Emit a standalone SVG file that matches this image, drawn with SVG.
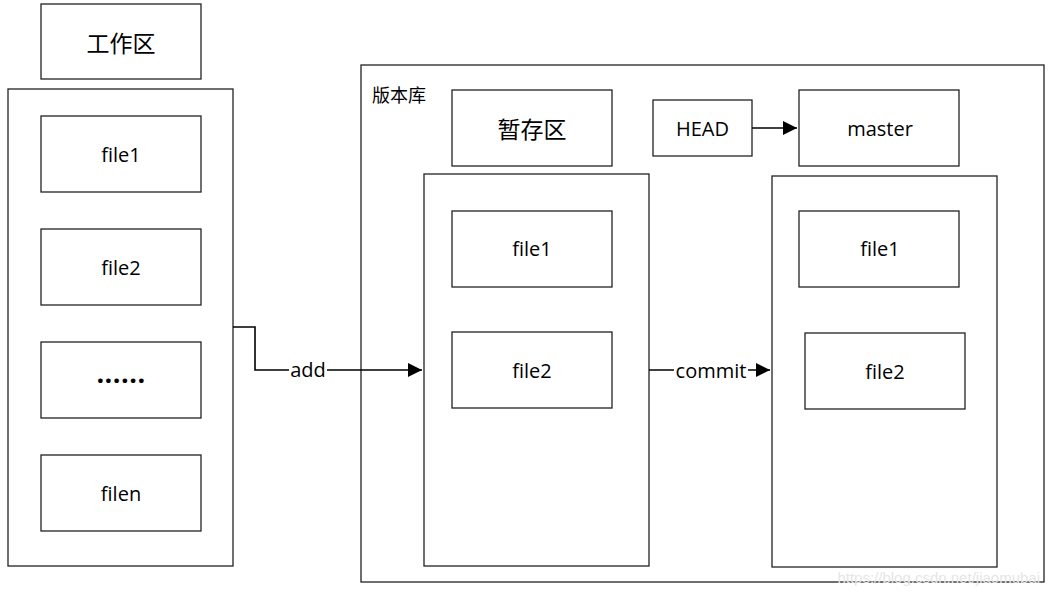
<svg xmlns="http://www.w3.org/2000/svg" width="1054" height="594" viewBox="0 0 1054 594">
<defs>
<marker id="arr" viewBox="0 0 10 10" refX="10" refY="5" markerWidth="14" markerHeight="14" markerUnits="userSpaceOnUse" orient="auto">
<path d="M0,0 L10,5 L0,10 z" fill="#000"/>
</marker>
<style>
.b{fill:#fff;stroke:#222;stroke-width:1.3}
.bg{fill:#fff;stroke:none}
.t{font-family:"Open Sans","Noto Sans",sans-serif;font-size:20px;fill:#000;text-anchor:middle;dominant-baseline:central}
.c{font-family:"Noto Sans CJK SC",sans-serif;font-size:23px;fill:#000;text-anchor:middle;dominant-baseline:central}
.e{fill:none;stroke:#000;stroke-width:1.6}
</style>
</defs>
<rect class="bg" width="1054" height="594"/>
<g id="workspace-title"><rect class="b" x="41" y="4" width="160" height="75"/><text class="c" x="121" y="42">工作区</text></g>
<g id="workspace"><rect class="b" x="8" y="89" width="225" height="477"/></g>
<g id="w-file1"><rect class="b" x="41" y="116" width="160" height="76"/><text class="t" x="121" y="154">file1</text></g>
<g id="w-file2"><rect class="b" x="41" y="229" width="160" height="76"/><text class="t" x="121" y="267">file2</text></g>
<g id="w-dots"><rect class="b" x="41" y="342" width="160" height="76"/><text class="t" x="121" y="372" style="font-weight:bold;font-size:27px;letter-spacing:0.5px">......</text></g>
<g id="w-filen"><rect class="b" x="41" y="455" width="160" height="76"/><text class="t" x="121" y="493">filen</text></g>
<g id="repo"><rect class="b" x="361" y="65" width="683" height="517"/><text x="372" y="102" style="font-family:'Noto Sans CJK SC',sans-serif;font-size:18px;fill:#000">版本库</text></g>
<g id="stage-title"><rect class="b" x="452" y="90" width="160" height="76"/><text class="c" x="532" y="128">暂存区</text></g>
<g id="stage"><rect class="b" x="424" y="174" width="225" height="392"/></g>
<g id="s-file1"><rect class="b" x="452" y="211" width="160" height="76"/><text class="t" x="532" y="248">file1</text></g>
<g id="s-file2"><rect class="b" x="452" y="332" width="160" height="76"/><text class="t" x="532" y="370">file2</text></g>
<g id="head"><rect class="b" x="653" y="100" width="99" height="56"/><text class="t" x="702.500" y="128">HEAD</text></g>
<g id="master-title"><rect class="b" x="799" y="90" width="160" height="76"/><text class="t" x="880" y="128">master</text></g>
<g id="master"><rect class="b" x="772" y="176" width="225" height="391"/></g>
<g id="m-file1"><rect class="b" x="799" y="211" width="160" height="76"/><text class="t" x="880" y="248">file1</text></g>
<g id="m-file2"><rect class="b" x="805" y="333" width="160" height="76"/><text class="t" x="885" y="371">file2</text></g>
<g id="connectors">
<path class="e" d="M233,327 H255 V370 H422" marker-end="url(#arr)"/>
<rect class="bg" x="289" y="358" width="38" height="24"/>
<text class="t" x="308" y="369">add</text>
<path class="e" d="M649,370 H770" marker-end="url(#arr)"/>
<rect class="bg" x="674" y="358" width="74" height="24"/>
<text class="t" x="711" y="370">commit</text>
<path class="e" d="M752,128 H797" marker-end="url(#arr)"/>
</g>
<text x="1040" y="583" style="font-family:'Liberation Sans',sans-serif;font-size:15px;fill:#e6e6e6;text-anchor:end">https://blog.csdn.net/jiaomubai</text>
</svg>
